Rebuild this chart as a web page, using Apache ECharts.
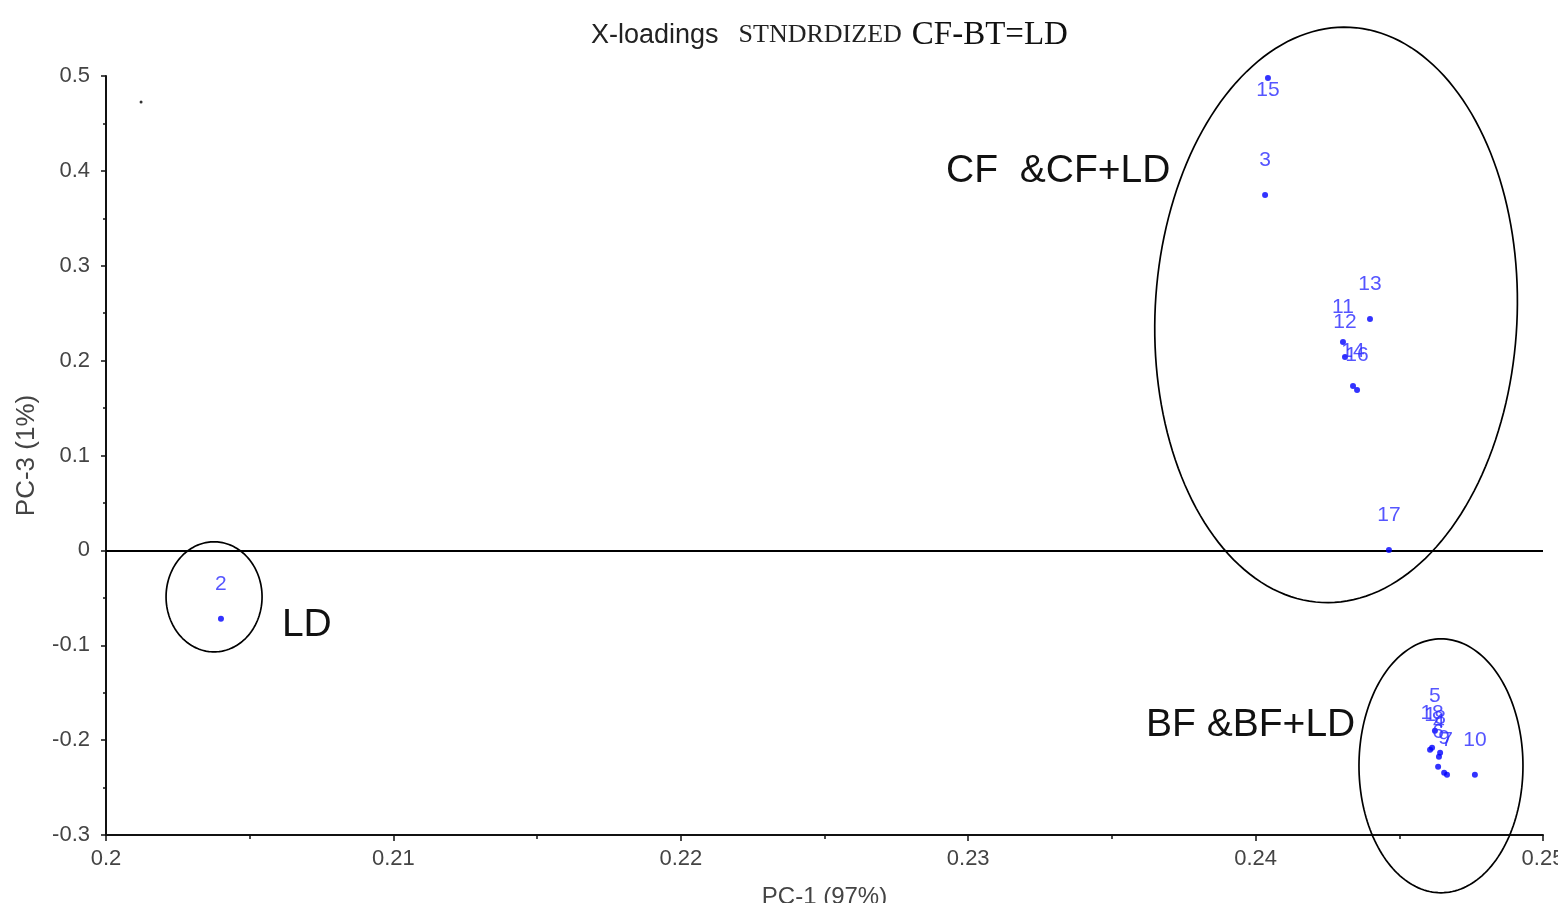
<!DOCTYPE html>
<html>
<head>
<meta charset="utf-8">
<script src="https://cdn.jsdelivr.net/npm/echarts@6/dist/echarts.min.js"></script>
<style>html,body{margin:0;padding:0;background:#fff;}#c{width:1558px;height:903px;}</style>
</head>
<body>
<div id="c"></div>
<script>
// ---- data ----
var pointNames = ['15','3','13','11','12','14','16','17','2','5','18','1','8','4','6','9','7','10'];
var pc1Values  = [0.24043,0.24033,0.24398,0.24304,0.24311,0.24339,0.24353,0.24464,0.20400,0.24624,0.24614,0.24607,0.24642,0.24638,0.24635,0.24656,0.24666,0.24763];
var pc3Values  = [0.4979,0.3746,0.2439,0.2197,0.2039,0.1733,0.1691,0.0005,-0.0722,-0.1902,-0.2081,-0.2102,-0.2134,-0.2176,-0.2281,-0.2344,-0.2365,-0.2365];
var strayPoint = [0.20122, 0.4726];
var xTicks = {min: 0.2, max: 0.25, interval: 0.01};
var yTicks = {min: -0.3, max: 0.5, interval: 0.1};
// group ellipses: centre x, centre y, radius x, radius y (data units), tilt (rad)
var groupEllipses = [
  [0.24280, 0.2482, 0.006298, 0.3035, 0.049],
  [0.20376, -0.0490, 0.00167, 0.0580, 0],
  [0.24645, -0.2271, 0.002853, 0.1338, 0]
];
var groupLabels = ['CF  &CF+LD', 'LD', 'BF &BF+LD'];
var groupLabelAnchors = [[0.22923, 0.3999], [0.20612, -0.0785], [0.23619, -0.1839]];

var scatterData = pointNames.map(function (n, i) {
  var d = {name: n, value: [pc1Values[i], pc3Values[i]]};
  if (n === '15') d.label = {position: 'bottom', distance: -1};
  return d;
});

var chart = echarts.init(document.getElementById('c'));
var FONT = '"Liberation Sans", Arial, sans-serif';
chart.setOption({
  backgroundColor: '#fff',
  animation: false,
  title: {
    left: 586, top: 14,
    text: '{a|X-loadings}    {b|STNDRDIZED}  {c|CF-BT=LD}',
    textStyle: {
      fontWeight: 'normal',
      rich: {
        a: {fontFamily: FONT, fontSize: 27, fontWeight: 'normal', color: '#222'},
        b: {fontFamily: '"Liberation Serif", serif', fontSize: 26, fontWeight: 'normal', color: '#222'},
        c: {fontFamily: '"Liberation Serif", serif', fontSize: 33, fontWeight: 'normal', color: '#111'}
      }
    }
  },
  grid: {left: 106, right: 15, top: 76, bottom: 68, outerBoundsMode: 'none', containLabel: false},
  xAxis: {
    type: 'value', min: xTicks.min, max: xTicks.max, interval: xTicks.interval,
    name: 'PC-1 (97%)', nameLocation: 'middle', nameGap: 50,
    nameTextStyle: {fontFamily: FONT, fontSize: 24, color: '#444'},
    axisLine: {show: true, onZero: false, lineStyle: {color: '#111', width: 2}},
    axisTick: {show: true, inside: false, length: 6, lineStyle: {color: '#111', width: 1.5}},
    minorTick: {show: true, splitNumber: 2, length: 4, lineStyle: {color: '#111', width: 1.5}},
    splitLine: {show: false},
    axisLabel: {fontFamily: FONT, fontSize: 22, color: '#444', margin: 13}
  },
  yAxis: {
    type: 'value', min: yTicks.min, max: yTicks.max, interval: yTicks.interval,
    name: 'PC-3 (1%)', nameLocation: 'middle', nameGap: 66,
    nameTextStyle: {fontFamily: FONT, fontSize: 26, color: '#444'},
    axisLine: {show: true, onZero: false, lineStyle: {color: '#111', width: 2}},
    axisTick: {show: true, inside: false, length: 5, lineStyle: {color: '#111', width: 1.5}},
    minorTick: {show: true, splitNumber: 2, length: 3, lineStyle: {color: '#111', width: 1.5}},
    splitLine: {show: false},
    axisLabel: {fontFamily: FONT, fontSize: 22, color: '#444', margin: 16}
  },
  series: [
    {
      type: 'scatter',
      data: scatterData,
      symbolSize: 6,
      itemStyle: {color: '#0000ff'},
      label: {show: true, position: 'top', distance: 21, formatter: '{b}',
        fontFamily: FONT, fontSize: 21, color: '#2a2aff'},
      markLine: {
        silent: true, symbol: 'none',
        label: {show: false},
        lineStyle: {color: '#000', width: 2, type: 'solid'},
        data: [{yAxis: 0}]
      },
      z: 5
    },
    {
      type: 'scatter',
      data: [strayPoint],
      symbolSize: 3,
      itemStyle: {color: '#000'}
    },
    {
      type: 'custom',
      clip: false,
      silent: true,
      data: groupEllipses,
      renderItem: function (params, api) {
        var c = api.coord([api.value(0), api.value(1)]);
        var rx = api.size([api.value(2), 0])[0];
        var ry = api.size([0, api.value(3)])[1];
        var t = api.value(4);
        var pts = [];
        for (var k = 0; k < 180; k++) {
          var a = k / 180 * Math.PI * 2;
          var x = rx * Math.cos(a), y = ry * Math.sin(a);
          pts.push([c[0] + x * Math.cos(t) - y * Math.sin(t), c[1] + x * Math.sin(t) + y * Math.cos(t)]);
        }
        return {type: 'polygon', shape: {points: pts},
          style: {fill: 'none', stroke: '#000', lineWidth: 1.7}};
      },
      z: 3
    },
    {
      type: 'custom',
      clip: false,
      silent: true,
      data: groupLabelAnchors.map(function (p, i) { return [p[0], p[1], i]; }),
      renderItem: function (params, api) {
        var c = api.coord([api.value(0), api.value(1)]);
        return {type: 'text', x: c[0], y: c[1],
          style: {text: groupLabels[api.value(2)], fontFamily: FONT, fontSize: 39,
            fill: '#111', align: 'left', verticalAlign: 'middle'}};
      },
      z: 4
    }
  ]
});
</script>
</body>
</html>
